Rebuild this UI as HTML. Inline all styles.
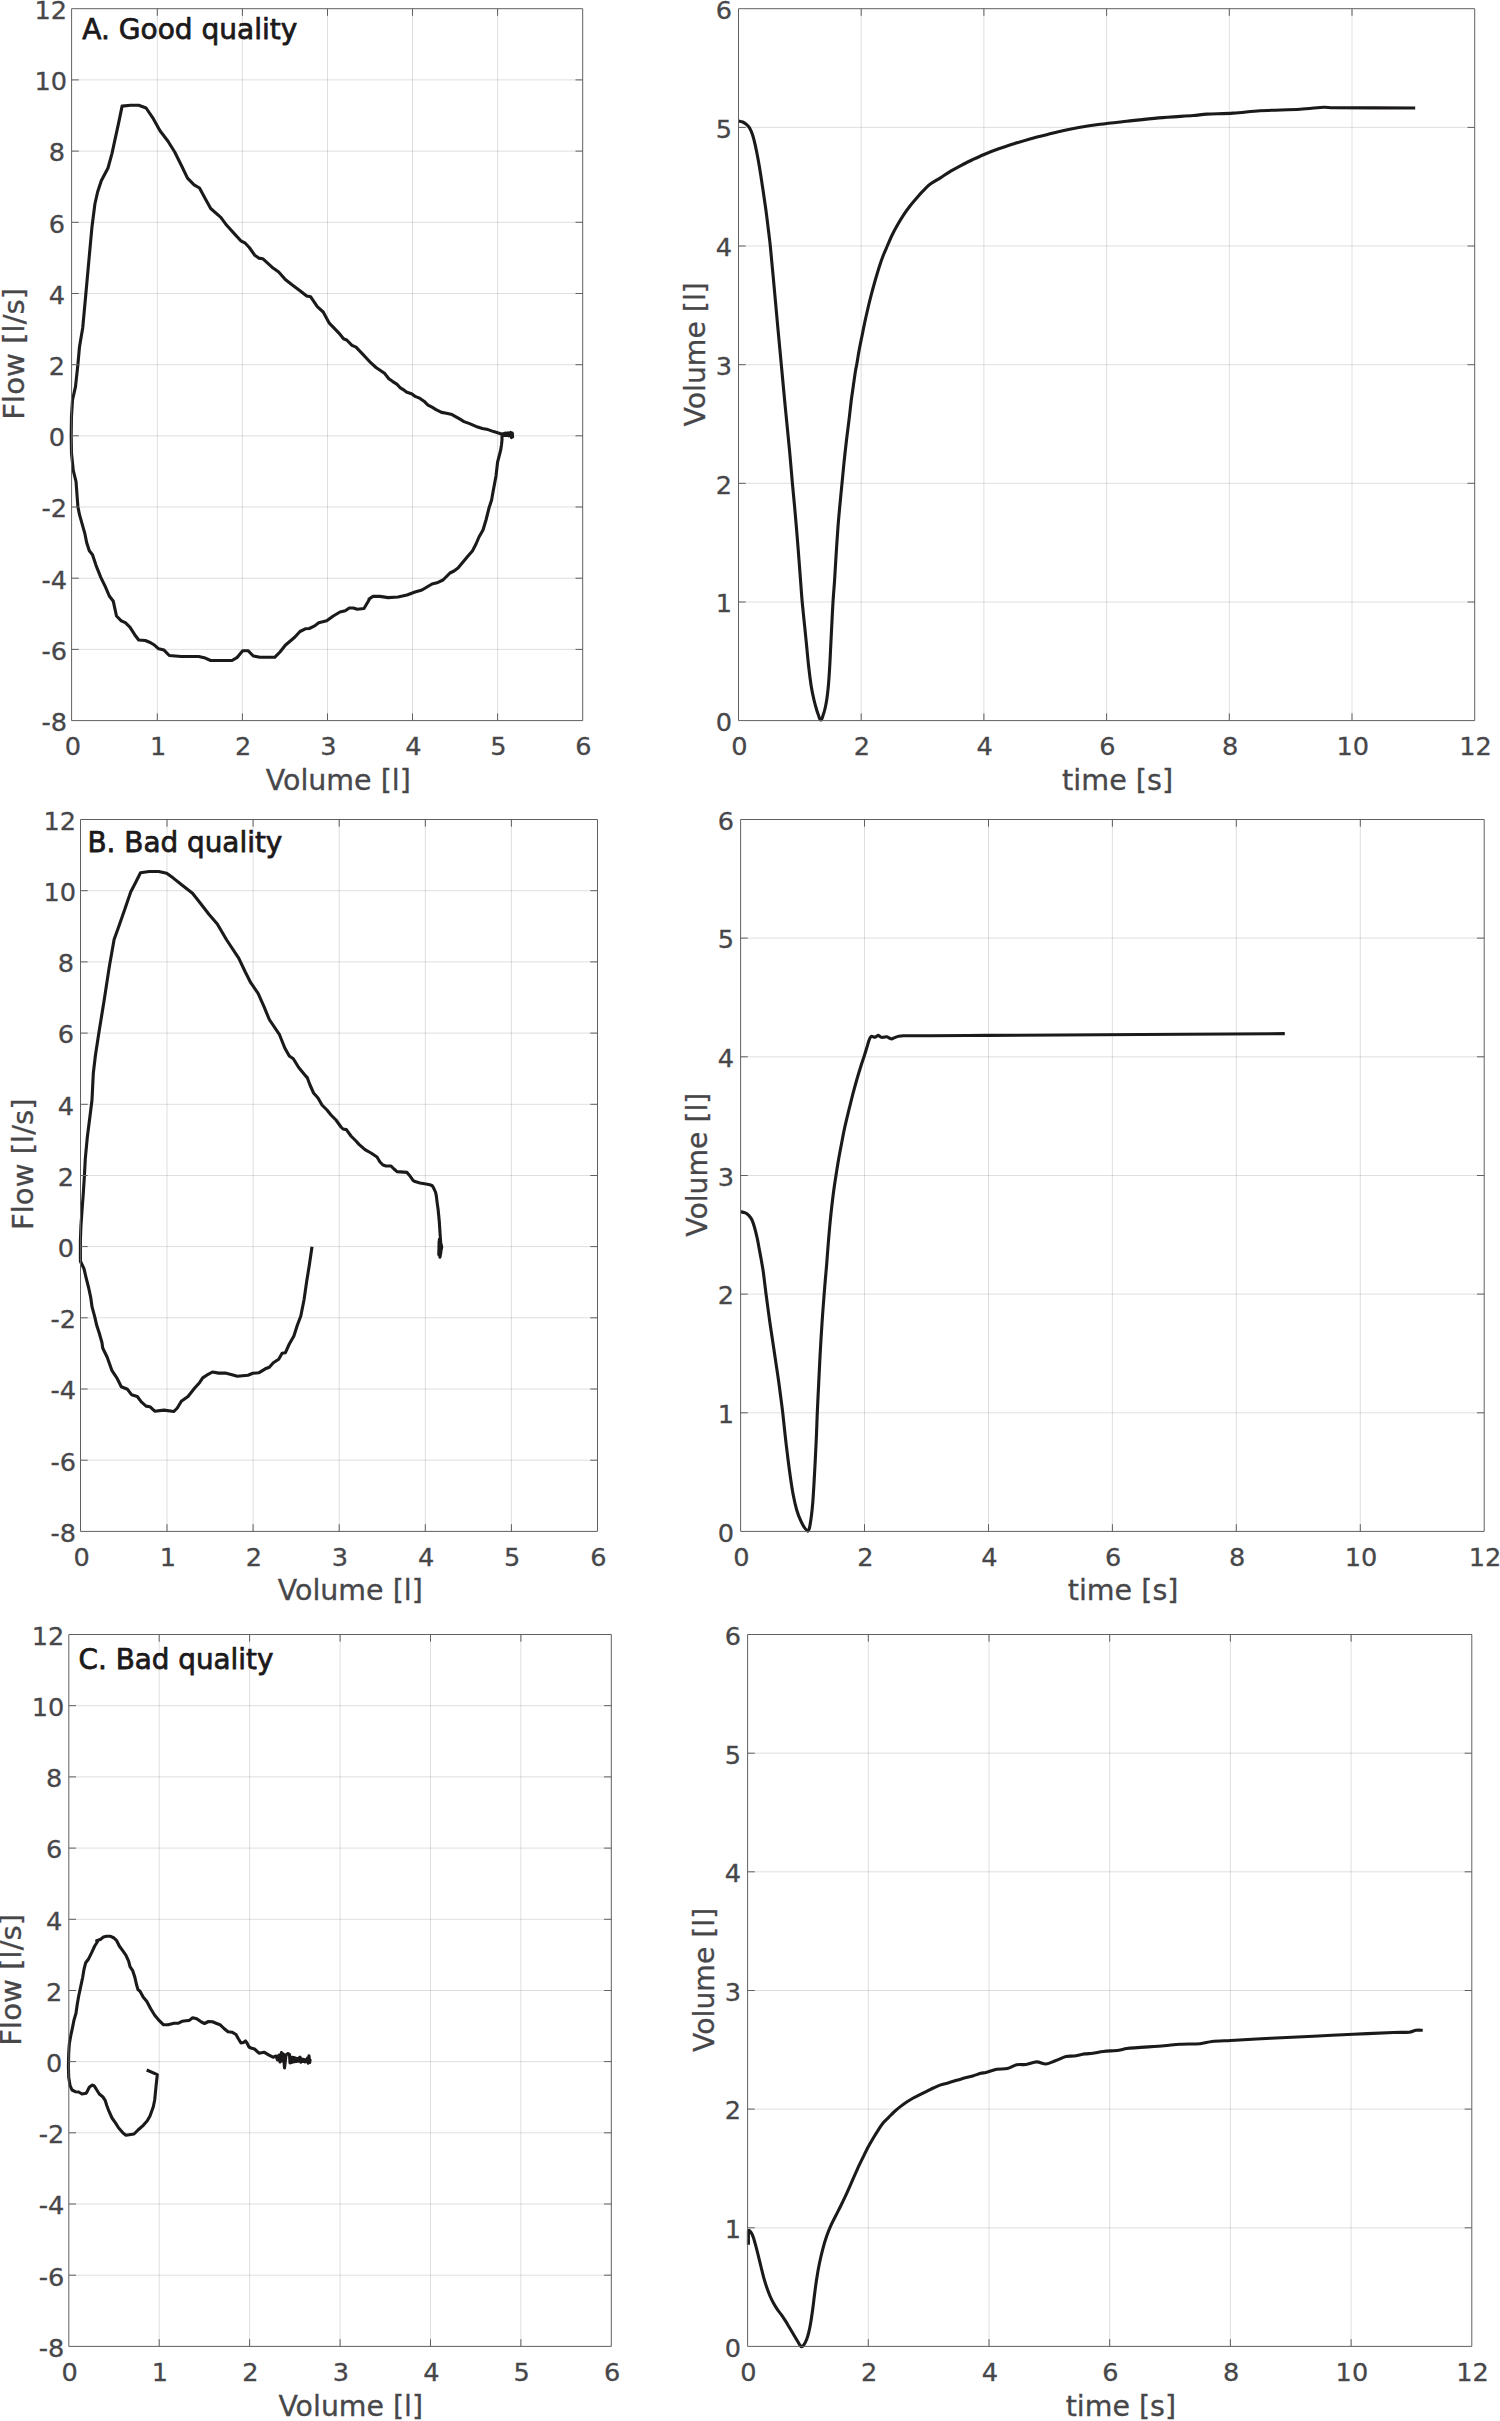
<!DOCTYPE html>
<html lang="en"><head><meta charset="utf-8"><title>Spirometry quality examples</title>
<style>html,body{margin:0;padding:0;background:#fff}svg{display:block}text{font-family:"DejaVu Sans", "Liberation Sans", sans-serif}.t{font-size:25.6px;fill:#47474a;stroke:#47474a;stroke-width:.3px}.l{font-size:27.8px;fill:#47474a;stroke:#47474a;stroke-width:.3px}.h{font-size:28px;fill:#1c191a;stroke:#1c191a;stroke-width:.75px;stroke-linejoin:round}.g{stroke:rgba(38,38,38,.15);stroke-width:1;fill:none}.a{stroke:#606062;stroke-width:1;fill:none}.c{stroke:#1c191a;stroke-width:3.1;fill:none;stroke-linejoin:round;stroke-linecap:butt}</style></head><body>
<svg width="1500" height="2421" viewBox="0 0 1500 2421">
<rect width="1500" height="2421" fill="#fff"/>
<g id="A1">
<path class="g" d="M157.3 8.7V720.6M242.4 8.7V720.6M327.5 8.7V720.6M412.5 8.7V720.6M497.6 8.7V720.6"/>
<path class="g" d="M71.6 649.4H582.7M71.6 578.2H582.7M71.6 507H582.7M71.6 435.8H582.7M71.6 364.7H582.7M71.6 293.5H582.7M71.6 222.3H582.7M71.6 151.1H582.7M71.6 79.9H582.7"/>
<polyline class="c" points="72.5,400 75.5,386.7 77.9,364.5 79.5,346.7 82.7,328 85.9,293.3 88.8,261.3 92,226.7 94.9,204 97.6,192 101.3,180.8 108,168 112,153.3 115.2,138.7 118.7,122.7 122.1,106.1 130.7,105.3 138.7,105.3 146.1,108 153.3,118.7 160,130.7 168,141.3 174.7,152 181.3,165.3 187.5,178.1 194.1,184.8 199.5,188 205.3,198.7 210.7,208.5 220.8,217.3 226.7,225.3 234.7,234.1 240.8,240.8 245.3,243.2 249.3,247.5 254.7,255.2 258.7,258.1 262.7,258.7 272,267.2 278.7,272 285.3,279.5 292,284.8 300,290.7 306.7,296 310.7,296.8 317.3,306.7 323.2,312 329.3,323.2 338.7,332.8 343.5,338.7 346.7,340 352,345.3 356,347.2 362.7,354.1 370.7,362.7 376,367.5 381.9,371.5 384.8,373.6 388.8,378.8 392.8,381.6 397.2,384.4 400,387.6 403.2,389.6 406.4,392 412,394 415.2,396.4 420,398.4 424,401.2 428,405.2 432,407.2 436,409.6 441.6,412.4 446.4,413.2 452,414.6 456,416.8 460,419.2 464,421.6 469.6,423.6 476,426.4 482.4,428.4 488,429.6 493.6,431.6 500,433.6 502.5,434 505.8,433 506.5,435.2 508,432.8 509.2,435.8 510.6,432.4 511.6,437.6 512.3,433 512.6,437 512.2,435.1 510.2,433.9 508.8,435.6 505,435.3 502,435.4 502,440 501.5,444.7 500.7,450 499.6,454.3 497.6,462 496,476 493,492 491.6,500 489,508 486,520 483,530 479,537 476,544 472.4,551 468,556 463,562 458,568 454,571 450,573 443,580 438,582.4 432,584 422,590 415,592 407,595 398,597 388,597.6 380,596.4 373,596.4 369,599 369.3,599.5 364,608.5 357.3,609.3 353.3,608 349.3,608 345.3,610.7 340,612 333.3,616 326.7,620.8 318.7,622.7 314.7,625.9 309.3,628.5 305.3,628.8 300,631.5 294.7,637.3 285.3,645.3 280,652 274.7,657.3 260,657.3 253.3,656 248,650.7 242.7,650.7 237.3,657.3 232,660.5 210.7,660.5 205.3,658.1 198.7,656.5 181.3,656.5 169.3,655.5 164,650.1 158.7,648.8 154.7,645.3 150.7,642.7 145.3,640.5 138.7,640 134.7,634.7 129.9,627.2 125.3,622.7 121.3,620.8 116.5,616 113.3,601.3 109.3,596 105.3,586.7 100.8,577.3 96,565.3 92.5,554.7 89.3,550.7 86.7,542.7 84.8,533.3 79.5,514.7 77.9,506.7 76,481.3 73.3,470.7 71.5,453.3 71.2,435.5 71.5,416 72.5,400"/>
<path class="a" d="M71.6 8.7H582.7V720.6H71.6ZM157.3 720.6v-7.2M157.3 8.7v7.2M242.4 720.6v-7.2M242.4 8.7v7.2M327.5 720.6v-7.2M327.5 8.7v7.2M412.5 720.6v-7.2M412.5 8.7v7.2M497.6 720.6v-7.2M497.6 8.7v7.2M71.6 649.4h7.2M582.7 649.4h-7.2M71.6 578.2h7.2M582.7 578.2h-7.2M71.6 507h7.2M582.7 507h-7.2M71.6 435.8h7.2M582.7 435.8h-7.2M71.6 364.7h7.2M582.7 364.7h-7.2M71.6 293.5h7.2M582.7 293.5h-7.2M71.6 222.3h7.2M582.7 222.3h-7.2M71.6 151.1h7.2M582.7 151.1h-7.2M71.6 79.9h7.2M582.7 79.9h-7.2"/>
<text class="t" x="73" y="755.4" text-anchor="middle">0</text>
<text class="t" x="158.1" y="755.4" text-anchor="middle">1</text>
<text class="t" x="243.2" y="755.4" text-anchor="middle">2</text>
<text class="t" x="328.3" y="755.4" text-anchor="middle">3</text>
<text class="t" x="413.3" y="755.4" text-anchor="middle">4</text>
<text class="t" x="498.4" y="755.4" text-anchor="middle">5</text>
<text class="t" x="583.5" y="755.4" text-anchor="middle">6</text>
<text class="t" x="67.1" y="730.9" text-anchor="end">-8</text>
<text class="t" x="67.1" y="659.7" text-anchor="end">-6</text>
<text class="t" x="67.1" y="588.5" text-anchor="end">-4</text>
<text class="t" x="67.1" y="517.3" text-anchor="end">-2</text>
<text class="t" x="65.1" y="446.1" text-anchor="end">0</text>
<text class="t" x="65.1" y="375" text-anchor="end">2</text>
<text class="t" x="65.1" y="303.8" text-anchor="end">4</text>
<text class="t" x="65.1" y="232.6" text-anchor="end">6</text>
<text class="t" x="65.1" y="161.4" text-anchor="end">8</text>
<text class="t" x="67.1" y="90.2" text-anchor="end">10</text>
<text class="t" x="67.1" y="19" text-anchor="end">12</text>
<text class="l" x="265.7" y="790" textLength="145.1" lengthAdjust="spacingAndGlyphs">Volume [l]</text>
<text class="l" transform="translate(24 419.7) rotate(-90)" textLength="131.8" lengthAdjust="spacingAndGlyphs">Flow [l/s]</text>
<text class="h" x="82.3" y="39" textLength="215" lengthAdjust="spacingAndGlyphs">A. Good quality</text>
</g>
<g id="A2">
<path class="g" d="M861.2 8.7V720.6M983.9 8.7V720.6M1106.6 8.7V720.6M1229.3 8.7V720.6M1352 8.7V720.6"/>
<path class="g" d="M738.5 602H1474.7M738.5 483.3H1474.7M738.5 364.7H1474.7M738.5 246H1474.7M738.5 127.4H1474.7"/>
<path class="c" d="M738.7 121.1C739.37 121.25 741.45 121.44 742.7 122C744.03 122.6 745.51 123.61 746.7 124.7C747.92 125.82 749.15 127.2 750 128.7C751 130.47 751.98 133.04 752.7 135.3C753.58 138.07 754.54 141.94 755.3 145.3C756.18 149.2 757.18 154.22 758 158.7C758.9 163.6 759.85 169.36 760.7 174.7C761.58 180.25 762.45 186.23 763.3 192C764.18 198 765.16 204.46 766 210.7C766.87 217.15 767.78 224.82 768.5 230.7C769.12 235.8 769.79 240.89 770.3 246C771.23 255.33 772.85 273.13 774.1 286.7C775.38 300.58 776.8 316.3 778 329.3C779.09 341.1 780.2 352.92 781.3 364.7C782.4 376.47 783.62 389.67 784.6 400C785.45 408.9 786.33 417.82 787.2 426.7C788.07 435.57 788.98 444.43 789.8 453.3C790.67 462.73 791.6 474.4 792.4 483.3C793.1 491.1 793.9 498.9 794.6 506.7C795.35 515.03 796.17 524.43 796.9 533.3C797.63 542.18 798.32 551.1 799 560C799.68 568.9 800.47 579.7 801 586.7C801.39 591.8 801.73 596.91 802.2 602C802.82 608.67 803.95 619.25 804.7 626.7C805.37 633.37 806.03 640.03 806.7 646.7C807.37 653.37 807.93 660.04 808.7 666.7C809.47 673.37 810.42 681.15 811.3 686.7C812.01 691.17 813.1 696.12 814 700C814.78 703.36 815.9 707.3 816.7 710C817.32 712.09 818.33 714.82 818.8 716.2C819.04 716.9 819.27 717.75 819.5 718.3C819.68 718.73 819.98 719.23 820.2 719.5C820.35 719.69 820.6 719.9 820.8 719.9C821 719.9 821.25 719.69 821.4 719.5C821.62 719.23 821.92 718.73 822.1 718.3C822.33 717.75 822.58 716.9 822.8 716.2C823.23 714.82 824.19 712.1 824.7 710C825.35 707.3 826.18 703.36 826.7 700C827.3 696.12 827.9 691.15 828.3 686.7C828.8 681.15 829.3 673.37 829.7 666.7C830.1 660.04 830.37 653.37 830.7 646.7C831.03 640.03 831.36 633.37 831.7 626.7C832.08 619.25 832.52 609.78 833 602C833.46 594.66 834.12 587.34 834.6 580C835.13 571.88 835.63 562.18 836.2 553.3C836.77 544.43 837.37 534.92 838 526.7C838.58 519.13 839.33 511.23 840 504C840.64 497.1 841.33 490.18 842 483.3C842.67 476.43 843.29 469.56 844 462.7C844.75 455.48 845.67 447.12 846.5 440C847.28 433.33 848.2 426.67 849 420C849.8 413.34 850.6 405.55 851.3 400C851.86 395.56 852.56 391.13 853.2 386.7C853.9 381.82 854.92 374.37 855.5 370.7C855.82 368.69 856.34 366.71 856.7 364.7C857.33 361.13 858.42 354.08 859.3 349.3C860.12 344.85 861.1 340.43 862 336C862.9 331.57 863.75 327.12 864.7 322.7C865.7 318.03 866.9 312.67 868 308C869.05 303.55 870.15 299.12 871.3 294.7C872.52 290.03 873.97 284.67 875.3 280C876.57 275.55 877.97 270.82 879.3 266.7C880.54 262.87 881.97 258.75 883.3 255.3C884.52 252.15 885.95 249.09 887.3 246C888.75 242.67 890.33 238.75 892 235.3C893.64 231.9 895.44 228.58 897.3 225.3C899.18 221.97 901.18 218.52 903.3 215.3C905.4 212.11 907.77 208.88 910 206C912.13 203.25 914.48 200.55 916.7 198C918.85 195.52 921.08 192.98 923.3 190.7C925.45 188.48 927.53 186.16 930 184.3C932.78 182.2 936.69 180.2 940 178.1C943.45 175.92 947.15 173.33 950.7 171.2C954.17 169.12 957.75 167.17 961.3 165.3C964.82 163.45 968.41 161.72 972 160C975.7 158.23 979.61 156.33 983.5 154.7C987.95 152.83 993.58 150.64 998.7 148.8C1003.9 146.93 1009.37 145.18 1014.7 143.5C1020.01 141.82 1025.37 140.17 1030.7 138.7C1036 137.24 1041.37 136.03 1046.7 134.7C1052.03 133.37 1057.37 131.9 1062.7 130.7C1068.01 129.51 1073.34 128.42 1078.7 127.5C1084.92 126.43 1092.88 125.22 1100 124.3C1108 123.27 1117.8 122.27 1126.7 121.3C1136.48 120.23 1148.01 118.83 1158.7 117.9C1169.8 116.93 1185.3 116.13 1193.3 115.5C1197.78 115.15 1202.22 114.37 1206.7 114.1C1213.37 113.7 1224.45 113.66 1233.3 113.1C1242.18 112.53 1251.08 111.21 1260 110.7C1271.12 110.07 1289.33 109.88 1300 109.3C1308.02 108.86 1318.67 107.47 1324 107.2C1326.67 107.07 1329.33 107.68 1332 107.7C1347.2 107.83 1401.33 107.95 1415.2 108"/>
<path class="a" d="M738.5 8.7H1474.7V720.6H738.5ZM861.2 720.6v-7.2M861.2 8.7v7.2M983.9 720.6v-7.2M983.9 8.7v7.2M1106.6 720.6v-7.2M1106.6 8.7v7.2M1229.3 720.6v-7.2M1229.3 8.7v7.2M1352 720.6v-7.2M1352 8.7v7.2M738.5 602h7.2M1474.7 602h-7.2M738.5 483.3h7.2M1474.7 483.3h-7.2M738.5 364.7h7.2M1474.7 364.7h-7.2M738.5 246h7.2M1474.7 246h-7.2M738.5 127.4h7.2M1474.7 127.4h-7.2"/>
<text class="t" x="739.3" y="755.4" text-anchor="middle">0</text>
<text class="t" x="862" y="755.4" text-anchor="middle">2</text>
<text class="t" x="984.7" y="755.4" text-anchor="middle">4</text>
<text class="t" x="1107.4" y="755.4" text-anchor="middle">6</text>
<text class="t" x="1230.1" y="755.4" text-anchor="middle">8</text>
<text class="t" x="1352.8" y="755.4" text-anchor="middle">10</text>
<text class="t" x="1475.5" y="755.4" text-anchor="middle">12</text>
<text class="t" x="732" y="730.9" text-anchor="end">0</text>
<text class="t" x="732" y="612.2" text-anchor="end">1</text>
<text class="t" x="732" y="493.6" text-anchor="end">2</text>
<text class="t" x="732" y="375" text-anchor="end">3</text>
<text class="t" x="732" y="256.3" text-anchor="end">4</text>
<text class="t" x="732" y="137.7" text-anchor="end">5</text>
<text class="t" x="732" y="19" text-anchor="end">6</text>
<text class="l" x="1062.1" y="790" textLength="111" lengthAdjust="spacingAndGlyphs">time [s]</text>
<text class="l" transform="translate(704.9 426.4) rotate(-90)" textLength="144.2" lengthAdjust="spacingAndGlyphs">Volume [l]</text>
</g>
<g id="B1">
<path class="g" d="M167 819.5V1531.4M253.1 819.5V1531.4M339.2 819.5V1531.4M425.3 819.5V1531.4M511.4 819.5V1531.4"/>
<path class="g" d="M80.5 1460.2H597.5M80.5 1389H597.5M80.5 1317.8H597.5M80.5 1246.6H597.5M80.5 1175.5H597.5M80.5 1104.3H597.5M80.5 1033.1H597.5M80.5 961.9H597.5M80.5 890.7H597.5"/>
<polyline class="c" points="312,1246.7 309.3,1265.3 306.7,1281.3 304,1300 300.8,1316 297.3,1325.3 293.9,1336 289.3,1344 285.3,1352.8 282.1,1353.3 278.7,1359.2 273.3,1362.7 269.3,1367.2 265.3,1368.8 258.7,1372.8 252.8,1373.3 248,1375.2 237.3,1376.3 232,1374.7 225.3,1373.1 218.7,1373.1 212.5,1372 206.7,1375.2 202.7,1377.9 199.5,1382.7 194.7,1388 188,1396.5 181.3,1401.3 177.3,1408 173.9,1411.5 164,1410.1 154.7,1411.2 149.9,1406.7 146.1,1406.1 141.3,1401.9 137.3,1396.5 131.5,1394.7 127.5,1389.3 121.3,1386.7 117.3,1378.7 112,1370.7 107.2,1357.3 102.7,1348 102,1342.7 99.3,1333.3 96.7,1325.3 94.7,1316.7 92,1306.7 90.7,1297.3 88.7,1288 86,1277.3 84,1268.7 80.4,1261.3 80.4,1253.3 80.4,1240 80.9,1226.7 82,1210.7 83.3,1193.3 84.4,1176 85.3,1158.7 87.3,1137.3 90,1116 92,1100 93.3,1073.3 95.5,1054.7 99.2,1030.7 104,1001.3 109.3,966.7 114.1,939.5 118.7,926.7 124.8,909.3 130.7,892 135.5,882.7 140.5,872.8 149.3,871.5 158.7,871.5 166.7,873.3 173.3,878.1 181.3,884.5 192.5,893.3 200,902.7 209.3,914.7 217.3,924 226.7,940 238.7,958.1 245.3,972 250.7,982.7 258.1,993.3 264,1006.7 269.3,1019.5 279.5,1034.7 284.8,1048 289.3,1056 293.3,1058.7 298.7,1067.5 306.7,1077.3 307,1077 310,1085 313.6,1093 318,1098 322,1105 327,1110 331,1115 336,1120 341,1127 343,1129 346.4,1129.6 351,1136 356,1141 359,1144.4 365,1149.6 371,1153 377,1157 380,1162 383,1165 386,1166 391,1166 394,1169 397,1171.6 407,1172.4 410,1176 413,1180.4 415,1181.6 420,1183 426,1184 429.8,1184.7 432.3,1185.7 433.9,1188.6 435.6,1192.3 436.4,1196.4 437.2,1203.1 438.1,1209.3 438.7,1215.5 439.3,1221.7 439.7,1227.9 440.1,1234 440.5,1240.2 441,1246.4 440.8,1252.6 439.9,1257.2 439.1,1241.2 438.8,1254.7 439.4,1239.2 440.1,1256.8 440.9,1243.6 441.7,1246.9 441,1250.6"/>
<path class="a" d="M80.5 819.5H597.5V1531.4H80.5ZM167 1531.4v-7.2M167 819.5v7.2M253.1 1531.4v-7.2M253.1 819.5v7.2M339.2 1531.4v-7.2M339.2 819.5v7.2M425.3 1531.4v-7.2M425.3 819.5v7.2M511.4 1531.4v-7.2M511.4 819.5v7.2M80.5 1460.2h7.2M597.5 1460.2h-7.2M80.5 1389h7.2M597.5 1389h-7.2M80.5 1317.8h7.2M597.5 1317.8h-7.2M80.5 1246.6h7.2M597.5 1246.6h-7.2M80.5 1175.5h7.2M597.5 1175.5h-7.2M80.5 1104.3h7.2M597.5 1104.3h-7.2M80.5 1033.1h7.2M597.5 1033.1h-7.2M80.5 961.9h7.2M597.5 961.9h-7.2M80.5 890.7h7.2M597.5 890.7h-7.2"/>
<text class="t" x="81.7" y="1566.2" text-anchor="middle">0</text>
<text class="t" x="167.8" y="1566.2" text-anchor="middle">1</text>
<text class="t" x="253.9" y="1566.2" text-anchor="middle">2</text>
<text class="t" x="340" y="1566.2" text-anchor="middle">3</text>
<text class="t" x="426.1" y="1566.2" text-anchor="middle">4</text>
<text class="t" x="512.2" y="1566.2" text-anchor="middle">5</text>
<text class="t" x="598.3" y="1566.2" text-anchor="middle">6</text>
<text class="t" x="76" y="1541.7" text-anchor="end">-8</text>
<text class="t" x="76" y="1470.5" text-anchor="end">-6</text>
<text class="t" x="76" y="1399.3" text-anchor="end">-4</text>
<text class="t" x="76" y="1328.1" text-anchor="end">-2</text>
<text class="t" x="74" y="1256.9" text-anchor="end">0</text>
<text class="t" x="74" y="1185.8" text-anchor="end">2</text>
<text class="t" x="74" y="1114.6" text-anchor="end">4</text>
<text class="t" x="74" y="1043.4" text-anchor="end">6</text>
<text class="t" x="74" y="972.2" text-anchor="end">8</text>
<text class="t" x="76" y="901" text-anchor="end">10</text>
<text class="t" x="76" y="829.8" text-anchor="end">12</text>
<text class="l" x="277.7" y="1600.4" textLength="145.1" lengthAdjust="spacingAndGlyphs">Volume [l]</text>
<text class="l" transform="translate(32.8 1230) rotate(-90)" textLength="131.5" lengthAdjust="spacingAndGlyphs">Flow [l/s]</text>
<text class="h" x="87.5" y="852.3" textLength="194.8" lengthAdjust="spacingAndGlyphs">B. Bad quality</text>
</g>
<g id="B2">
<path class="g" d="M864.5 819.5V1531.4M988.5 819.5V1531.4M1112.4 819.5V1531.4M1236.3 819.5V1531.4M1360.3 819.5V1531.4"/>
<path class="g" d="M740.6 1412.8H1484.2M740.6 1294.1H1484.2M740.6 1175.5H1484.2M740.6 1056.8H1484.2M740.6 938.1H1484.2"/>
<path class="c" d="M740.7 1211.7C741.37 1211.87 743.45 1212.14 744.7 1212.7C746.03 1213.3 747.58 1214.18 748.7 1215.3C749.92 1216.52 751.18 1218.27 752 1220C753 1222.12 753.93 1225.29 754.7 1228C755.58 1231.12 756.53 1235.15 757.3 1238.7C758.06 1242.21 758.64 1245.77 759.3 1249.3C759.97 1252.85 760.67 1256.43 761.3 1260C761.97 1263.78 762.74 1267.98 763.3 1272C764.08 1277.62 765.06 1286.47 766 1293.7C767.12 1302.25 768.67 1313.92 770 1323.3C771.27 1332.21 772.67 1341.1 774 1350C775.33 1358.9 776.88 1368.92 778 1376.7C778.96 1383.36 779.92 1390.75 780.7 1396.7C781.39 1401.93 782.1 1407.16 782.7 1412.4C783.47 1419.07 784.42 1428.88 785.3 1436.7C786.15 1444.24 787.1 1452.2 788 1459.3C788.85 1465.97 789.82 1473.3 790.7 1479.3C791.49 1484.65 792.3 1490.18 793.3 1495.3C794.26 1500.24 795.47 1505.77 796.7 1510C797.77 1513.66 799.37 1517.7 800.7 1520.7C801.83 1523.24 803.53 1526.27 804.7 1528C805.5 1529.19 807.7 1531.1 807.7 1531.1C807.7 1531.1 809.07 1529.63 809.3 1528.7C809.9 1526.3 810.76 1520.72 811.3 1516.7C811.87 1512.47 812.34 1507.78 812.7 1503.3C813.15 1497.73 813.61 1489.97 814 1483.3C814.43 1475.97 814.9 1467.07 815.3 1459.3C815.69 1451.77 816.08 1444.24 816.4 1436.7C816.73 1428.88 816.95 1420.5 817.3 1412.4C817.68 1403.5 818.25 1392.58 818.7 1383.3C819.13 1374.43 819.51 1365.56 820 1356.7C820.55 1346.7 821.33 1333.42 822 1323.3C822.6 1314.2 823.45 1303.22 824 1296C824.41 1290.66 824.85 1285.33 825.3 1280C825.75 1274.67 826.27 1269.34 826.7 1264C827.15 1258.45 827.54 1252.46 828 1246.7C828.5 1240.48 829.1 1233.15 829.7 1226.7C830.28 1220.46 830.93 1214 831.6 1208C832.24 1202.23 832.97 1196.15 833.7 1190.7C834.39 1185.56 835.2 1180.43 836 1175.3C836.83 1169.97 837.75 1164.13 838.7 1158.7C839.63 1153.35 840.67 1148.03 841.7 1142.7C842.73 1137.37 843.74 1132.01 844.9 1126.7C846.07 1121.37 847.4 1116.03 848.7 1110.7C850 1105.37 851.37 1099.82 852.7 1094.7C853.98 1089.79 855.37 1084.67 856.7 1080C857.97 1075.55 859.48 1070.58 860.7 1066.7C861.75 1063.35 863 1059.82 864 1056.7C864.93 1053.81 865.92 1050.57 866.7 1048C867.38 1045.77 868.15 1042.97 868.7 1041.3C869.07 1040.18 869.52 1038.83 870 1038C870.39 1037.33 870.93 1036.45 871.6 1036.3C872.27 1036.15 873.27 1037.03 874 1037.1C874.68 1037.16 875.37 1036.96 876 1036.7C876.72 1036.4 877.52 1035.23 878.3 1035.3C879.08 1035.37 879.87 1036.77 880.7 1037.1C881.51 1037.42 882.43 1037.36 883.3 1037.3C884.3 1037.23 885.7 1036.58 886.7 1036.7C887.66 1036.81 888.48 1037.63 889.3 1038C890.05 1038.34 890.78 1038.96 891.6 1038.9C892.5 1038.83 893.65 1037.99 894.7 1037.6C895.88 1037.17 897.33 1036.59 898.7 1036.3C900.13 1036 901.76 1035.82 903.3 1035.8C908.52 1035.72 921.1 1035.84 930 1035.8C944.12 1035.73 968.67 1035.53 988 1035.4C1016.33 1035.22 1062.67 1034.93 1100 1034.7C1149.47 1034.4 1254 1033.78 1284.8 1033.6"/>
<path class="a" d="M740.6 819.5H1484.2V1531.4H740.6ZM864.5 1531.4v-7.2M864.5 819.5v7.2M988.5 1531.4v-7.2M988.5 819.5v7.2M1112.4 1531.4v-7.2M1112.4 819.5v7.2M1236.3 1531.4v-7.2M1236.3 819.5v7.2M1360.3 1531.4v-7.2M1360.3 819.5v7.2M740.6 1412.8h7.2M1484.2 1412.8h-7.2M740.6 1294.1h7.2M1484.2 1294.1h-7.2M740.6 1175.5h7.2M1484.2 1175.5h-7.2M740.6 1056.8h7.2M1484.2 1056.8h-7.2M740.6 938.1h7.2M1484.2 938.1h-7.2"/>
<text class="t" x="741.4" y="1566.2" text-anchor="middle">0</text>
<text class="t" x="865.3" y="1566.2" text-anchor="middle">2</text>
<text class="t" x="989.3" y="1566.2" text-anchor="middle">4</text>
<text class="t" x="1113.2" y="1566.2" text-anchor="middle">6</text>
<text class="t" x="1237.1" y="1566.2" text-anchor="middle">8</text>
<text class="t" x="1361.1" y="1566.2" text-anchor="middle">10</text>
<text class="t" x="1485" y="1566.2" text-anchor="middle">12</text>
<text class="t" x="734.1" y="1541.7" text-anchor="end">0</text>
<text class="t" x="734.1" y="1423" text-anchor="end">1</text>
<text class="t" x="734.1" y="1304.4" text-anchor="end">2</text>
<text class="t" x="734.1" y="1185.8" text-anchor="end">3</text>
<text class="t" x="734.1" y="1067.1" text-anchor="end">4</text>
<text class="t" x="734.1" y="948.4" text-anchor="end">5</text>
<text class="t" x="734.1" y="829.8" text-anchor="end">6</text>
<text class="l" x="1067.7" y="1600.4" textLength="110.7" lengthAdjust="spacingAndGlyphs">time [s]</text>
<text class="l" transform="translate(707.2 1236.7) rotate(-90)" textLength="144.1" lengthAdjust="spacingAndGlyphs">Volume [l]</text>
</g>
<g id="C1">
<path class="g" d="M159.2 1634.5V2346.4M249.6 1634.5V2346.4M340.1 1634.5V2346.4M430.5 1634.5V2346.4M520.9 1634.5V2346.4"/>
<path class="g" d="M68.8 2275.2H611.3M68.8 2204H611.3M68.8 2132.8H611.3M68.8 2061.6H611.3M68.8 1990.5H611.3M68.8 1919.3H611.3M68.8 1848.1H611.3M68.8 1776.9H611.3M68.8 1705.7H611.3"/>
<polyline class="c" points="146.7,2070 157.3,2074.7 156,2086.7 154.7,2100 153.3,2106.7 150,2116 147.3,2120.7 143.3,2125.3 138,2130 134,2134 126,2135.3 123.3,2133.3 118.7,2128 115.3,2122.7 112,2118 108.7,2110.7 106.7,2105.3 105.3,2100.7 102.7,2096.7 99.3,2094 96,2088.7 94,2085.7 92,2085.1 89.3,2087.3 87.3,2091.3 86,2093.3 82,2094 78.7,2092 75.3,2091.7 72,2090 70,2085.3 68.7,2077.3 68.4,2066.7 68.7,2053.3 69.3,2044 70.7,2036 72.7,2026.7 74,2020 76,2013.3 77.3,2004 78.7,1996 80.7,1986.7 82.7,1977.3 84,1969.3 85.7,1962.7 88.7,1958.7 91.3,1953.3 94.7,1946 97.3,1942 96.7,1940.7 100.7,1939.3 103.3,1937.1 106.7,1936.3 110.7,1936.3 114,1938 116.7,1940.7 119.3,1946 122.7,1950.7 126,1955.3 128.7,1961.3 130,1966.7 132.7,1970.7 134.7,1976.7 136.7,1985.3 138,1989.6 140,1991.3 143.3,1997.3 146.7,2001.3 150.7,2008.7 154.7,2015.3 159.3,2020.7 163.3,2024.7 168,2024.7 174,2023.3 178,2023.3 182,2021.3 186,2020.7 189.3,2020.4 192.7,2017.7 196.7,2018.7 200.7,2021.6 204.5,2023.5 208.5,2021.5 212.5,2021.8 216,2023.2 220,2024.7 224,2028.5 228,2031.8 232,2032.2 236,2034.5 238.5,2039 241,2043 243.5,2042.5 245.5,2041 247,2043 249,2047 251,2048 254.5,2049 259,2053.2 264,2052.2 269,2055.2 273,2057.2 276,2056 277.5,2060 279,2055 280,2062 281.5,2052.5 282.5,2061 283.5,2054 284.5,2068 286,2055 288,2053.5 289.5,2054.5 290,2063 290.8,2057 291.6,2062.5 292.4,2057.2 293.2,2062 294,2057.5 294.8,2061.8 295.6,2058 296.4,2061.5 297.2,2058.5 298,2061.2 299,2058 300,2057.2 300.8,2062.2 301.8,2059 302.8,2061.5 304,2059.5 305,2061.8 306,2059.5 306.8,2061.5 307.5,2058 308.2,2063.2 309,2055.8 309.7,2062.5 310.2,2059"/>
<path class="a" d="M68.8 1634.5H611.3V2346.4H68.8ZM159.2 2346.4v-7.2M159.2 1634.5v7.2M249.6 2346.4v-7.2M249.6 1634.5v7.2M340.1 2346.4v-7.2M340.1 1634.5v7.2M430.5 2346.4v-7.2M430.5 1634.5v7.2M520.9 2346.4v-7.2M520.9 1634.5v7.2M68.8 2275.2h7.2M611.3 2275.2h-7.2M68.8 2204h7.2M611.3 2204h-7.2M68.8 2132.8h7.2M611.3 2132.8h-7.2M68.8 2061.6h7.2M611.3 2061.6h-7.2M68.8 1990.5h7.2M611.3 1990.5h-7.2M68.8 1919.3h7.2M611.3 1919.3h-7.2M68.8 1848.1h7.2M611.3 1848.1h-7.2M68.8 1776.9h7.2M611.3 1776.9h-7.2M68.8 1705.7h7.2M611.3 1705.7h-7.2"/>
<text class="t" x="69.6" y="2381.2" text-anchor="middle">0</text>
<text class="t" x="160" y="2381.2" text-anchor="middle">1</text>
<text class="t" x="250.4" y="2381.2" text-anchor="middle">2</text>
<text class="t" x="340.9" y="2381.2" text-anchor="middle">3</text>
<text class="t" x="431.3" y="2381.2" text-anchor="middle">4</text>
<text class="t" x="521.7" y="2381.2" text-anchor="middle">5</text>
<text class="t" x="612.1" y="2381.2" text-anchor="middle">6</text>
<text class="t" x="64.3" y="2356.7" text-anchor="end">-8</text>
<text class="t" x="64.3" y="2285.5" text-anchor="end">-6</text>
<text class="t" x="64.3" y="2214.3" text-anchor="end">-4</text>
<text class="t" x="64.3" y="2143.1" text-anchor="end">-2</text>
<text class="t" x="62.3" y="2071.9" text-anchor="end">0</text>
<text class="t" x="62.3" y="2000.8" text-anchor="end">2</text>
<text class="t" x="62.3" y="1929.6" text-anchor="end">4</text>
<text class="t" x="62.3" y="1858.4" text-anchor="end">6</text>
<text class="t" x="62.3" y="1787.2" text-anchor="end">8</text>
<text class="t" x="64.3" y="1716" text-anchor="end">10</text>
<text class="t" x="64.3" y="1644.8" text-anchor="end">12</text>
<text class="l" x="278.4" y="2415.6" textLength="144.7" lengthAdjust="spacingAndGlyphs">Volume [l]</text>
<text class="l" transform="translate(21 2045.7) rotate(-90)" textLength="131.8" lengthAdjust="spacingAndGlyphs">Flow [l/s]</text>
<text class="h" x="78.6" y="1668.5" textLength="194.8" lengthAdjust="spacingAndGlyphs">C. Bad quality</text>
</g>
<g id="C2">
<path class="g" d="M868.3 1634.5V2346.4M989 1634.5V2346.4M1109.7 1634.5V2346.4M1230.4 1634.5V2346.4M1351.1 1634.5V2346.4"/>
<path class="g" d="M747.6 2227.8H1471.8M747.6 2109.1H1471.8M747.6 1990.5H1471.8M747.6 1871.8H1471.8M747.6 1753.2H1471.8"/>
<path class="c" d="M748.4 2244.7C748.4 2242.37 748.4 2230.7 748.4 2230.7C748.4 2230.7 749.04 2230.22 749.3 2230.4C749.78 2230.73 750.79 2231.82 751.3 2232.7C751.97 2233.85 752.77 2235.71 753.3 2237.3C754.08 2239.63 755.15 2243.55 756 2246.7C756.9 2250.03 757.82 2253.76 758.7 2257.3C759.58 2260.85 760.42 2264.44 761.3 2268C762.18 2271.57 763.1 2275.48 764 2278.7C764.81 2281.59 765.72 2284.46 766.7 2287.3C767.7 2290.18 768.9 2293.43 770 2296C770.98 2298.29 772.1 2300.52 773.3 2302.7C774.52 2304.92 775.97 2307.3 777.3 2309.3C778.54 2311.16 780.01 2312.87 781.3 2314.7C782.63 2316.6 784.01 2318.67 785.3 2320.7C786.63 2322.8 787.97 2325.1 789.3 2327.3C790.63 2329.52 791.97 2331.77 793.3 2334C794.63 2336.23 795.97 2338.58 797.3 2340.7C798.58 2342.73 800.18 2346.03 801.3 2346.7C802.26 2347.27 803.34 2345.6 804 2344.7C804.9 2343.47 805.97 2341.17 806.7 2339.3C807.48 2337.3 808.16 2334.93 808.7 2332.7C809.37 2329.93 810.13 2326.05 810.7 2322.7C811.37 2318.8 812.09 2313.77 812.7 2309.3C813.37 2304.4 814.03 2298.4 814.7 2293.3C815.34 2288.43 815.94 2283.55 816.7 2278.7C817.47 2273.82 818.3 2268.88 819.3 2264C820.3 2259.1 821.47 2253.97 822.7 2249.3C823.88 2244.82 825.27 2240.1 826.7 2236C828.04 2232.16 829.75 2228.15 831.3 2224.7C832.74 2221.5 834.43 2218.43 836 2215.3C837.67 2211.97 839.57 2208.25 841.3 2204.7C843.08 2201.03 844.95 2197.12 846.7 2193.3C848.48 2189.4 850.23 2185.3 852 2181.3C853.77 2177.3 855.52 2173.18 857.3 2169.3C859.04 2165.51 860.92 2161.67 862.7 2158C864.44 2154.42 866.23 2150.63 868 2147.3C869.67 2144.15 871.52 2141 873.3 2138C875.04 2135.07 877.03 2131.85 878.7 2129.3C880.17 2127.06 881.63 2124.7 883.3 2122.7C884.93 2120.74 886.92 2119.08 888.7 2117.3C890.47 2115.53 892.16 2113.69 894 2112C895.88 2110.27 897.94 2108.52 900 2106.9C902.12 2105.23 904.48 2103.48 906.7 2102C908.84 2100.57 911.08 2099.22 913.3 2098C915.48 2096.8 917.77 2095.81 920 2094.7C922.23 2093.58 924.48 2092.42 926.7 2091.3C928.9 2090.19 931.08 2089.03 933.3 2088C935.51 2086.97 937.7 2085.89 940 2085.1C942.57 2084.22 945.81 2083.54 948.7 2082.7C952.37 2081.63 958 2079.82 962 2078.7C965.54 2077.71 969.58 2076.9 972.7 2076C975.4 2075.22 978.48 2073.88 980.7 2073.3C982.43 2072.85 984.27 2072.93 986 2072.5C988.67 2071.83 993.15 2069.97 996.7 2069.3C1000.18 2068.65 1003.97 2069.25 1007.3 2068.5C1010.59 2067.76 1013.58 2065.47 1016.7 2064.8C1019.73 2064.15 1022.93 2064.95 1026 2064.5C1029.33 2064.02 1033.37 2061.98 1036.7 2061.9C1039.88 2061.82 1042.9 2064.18 1046 2064C1049.1 2063.82 1052.23 2061.95 1055.3 2060.8C1058.63 2059.55 1062.88 2057.3 1066 2056.5C1068.59 2055.84 1071.35 2056.37 1074 2056C1077.12 2055.57 1081.58 2054.35 1084.7 2053.9C1087.35 2053.52 1090.05 2053.64 1092.7 2053.3C1095.8 2052.9 1099.74 2051.91 1103.3 2051.5C1107.63 2051 1114.8 2050.8 1118.7 2050.3C1121.41 2049.95 1123.98 2048.77 1126.7 2048.5C1134.25 2047.75 1155.12 2046.52 1164 2045.8C1169.34 2045.37 1174.65 2044.51 1180 2044.2C1186 2043.85 1194.67 2044.15 1200 2043.7C1204.05 2043.36 1207.96 2041.92 1212 2041.5C1217.12 2040.97 1224.47 2040.84 1230.7 2040.5C1240.48 2039.97 1257.36 2038.99 1270.7 2038.3C1284.47 2037.58 1299.53 2036.87 1313.3 2036.2C1326.63 2035.55 1339.97 2034.92 1353.3 2034.3C1366.63 2033.68 1383.97 2032.85 1393.3 2032.5C1398.63 2032.3 1405.52 2032.57 1409.3 2032.2C1411.61 2031.98 1413.77 2030.62 1416 2030.3C1418.21 2029.99 1421.58 2030.3 1422.7 2030.3"/>
<path class="a" d="M747.6 1634.5H1471.8V2346.4H747.6ZM868.3 2346.4v-7.2M868.3 1634.5v7.2M989 2346.4v-7.2M989 1634.5v7.2M1109.7 2346.4v-7.2M1109.7 1634.5v7.2M1230.4 2346.4v-7.2M1230.4 1634.5v7.2M1351.1 2346.4v-7.2M1351.1 1634.5v7.2M747.6 2227.8h7.2M1471.8 2227.8h-7.2M747.6 2109.1h7.2M1471.8 2109.1h-7.2M747.6 1990.5h7.2M1471.8 1990.5h-7.2M747.6 1871.8h7.2M1471.8 1871.8h-7.2M747.6 1753.2h7.2M1471.8 1753.2h-7.2"/>
<text class="t" x="748.4" y="2381.2" text-anchor="middle">0</text>
<text class="t" x="869.1" y="2381.2" text-anchor="middle">2</text>
<text class="t" x="989.8" y="2381.2" text-anchor="middle">4</text>
<text class="t" x="1110.5" y="2381.2" text-anchor="middle">6</text>
<text class="t" x="1231.2" y="2381.2" text-anchor="middle">8</text>
<text class="t" x="1351.9" y="2381.2" text-anchor="middle">10</text>
<text class="t" x="1472.6" y="2381.2" text-anchor="middle">12</text>
<text class="t" x="741.1" y="2356.7" text-anchor="end">0</text>
<text class="t" x="741.1" y="2238.1" text-anchor="end">1</text>
<text class="t" x="741.1" y="2119.4" text-anchor="end">2</text>
<text class="t" x="741.1" y="2000.8" text-anchor="end">3</text>
<text class="t" x="741.1" y="1882.1" text-anchor="end">4</text>
<text class="t" x="741.1" y="1763.5" text-anchor="end">5</text>
<text class="t" x="741.1" y="1644.8" text-anchor="end">6</text>
<text class="l" x="1065.7" y="2415.6" textLength="110.3" lengthAdjust="spacingAndGlyphs">time [s]</text>
<text class="l" transform="translate(714 2051.9) rotate(-90)" textLength="144.1" lengthAdjust="spacingAndGlyphs">Volume [l]</text>
</g>
</svg></body></html>
